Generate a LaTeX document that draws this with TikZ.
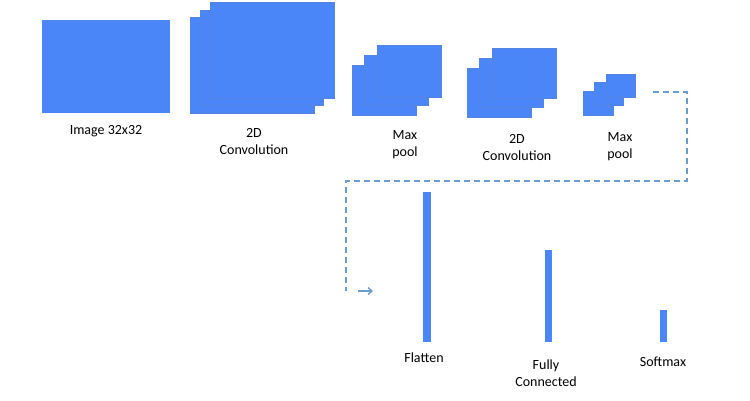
\documentclass[tikz,border=0pt]{standalone}
\usepackage{fontspec}
\setmainfont{Carlito}
\usetikzlibrary{arrows.meta}
\definecolor{fm}{HTML}{4A86F7}
\definecolor{dl}{HTML}{6A9BD1}
\begin{document}
\begin{tikzpicture}[x=1pt,y=-1pt,
  map/.style={fill=fm,draw=fm!80!gray,line width=0.4pt},
  lbl/.style={font=\fontsize{14}{17}\selectfont,align=center,text=black},
  flow/.style={dl,dashed,line width=1.3pt,dash pattern=on 6pt off 4pt}]
\useasboundingbox[fill=white] (0,0) rectangle (750,401);
\fill[fm] (42,20) rectangle (170,113);
\node[lbl] (l1) at (106,131) {Image 32x32};
\draw[map] (190,17) rectangle (314,113);
\draw[map] (200,10) rectangle (323,105);
\draw[map] (210,2) rectangle (334,98);
\node[lbl] (l2) at (254,142) {2D\\Convolution};
\draw[map] (352,65) rectangle (416,115);
\draw[map] (364,55) rectangle (428,105);
\draw[map] (377,45) rectangle (441,97);
\node[lbl] (l3) at (405,145) {Max\\pool};
\draw[map] (467,68) rectangle (531,117);
\draw[map] (479,58) rectangle (543,107);
\draw[map] (492,48) rectangle (556,98);
\node[lbl] (l4) at (517,148) {2D\\Convolution};
\draw[map] (583,91) rectangle (613,115);
\draw[map] (594,82) rectangle (623,105);
\draw[map] (606,74) rectangle (635,97);
\node[lbl] (l5) at (620,147) {Max\\pool};
\coordinate (s) at (653,92);
\coordinate (e) at (346,291);
\coordinate (t) at (373,291);
\draw[flow] (s) -- (687,92) -- (687,181) -- (346,181) -- (e);
\draw[dl,line width=1.3pt,-{Straight Barb[length=4pt,width=7pt]}] (e) ++(12,0) -- (t);
\fill[fm] (423,192) rectangle (431,342);
\node[lbl] (f1) at (424,358) {Flatten};
\fill[fm] (545,250) rectangle (552,342);
\node[lbl] (f2) at (546,373) {Fully\\Connected};
\fill[fm] (660,310) rectangle (667,342);
\node[lbl] (f3) at (663,362) {Softmax};
\end{tikzpicture}
\end{document}
